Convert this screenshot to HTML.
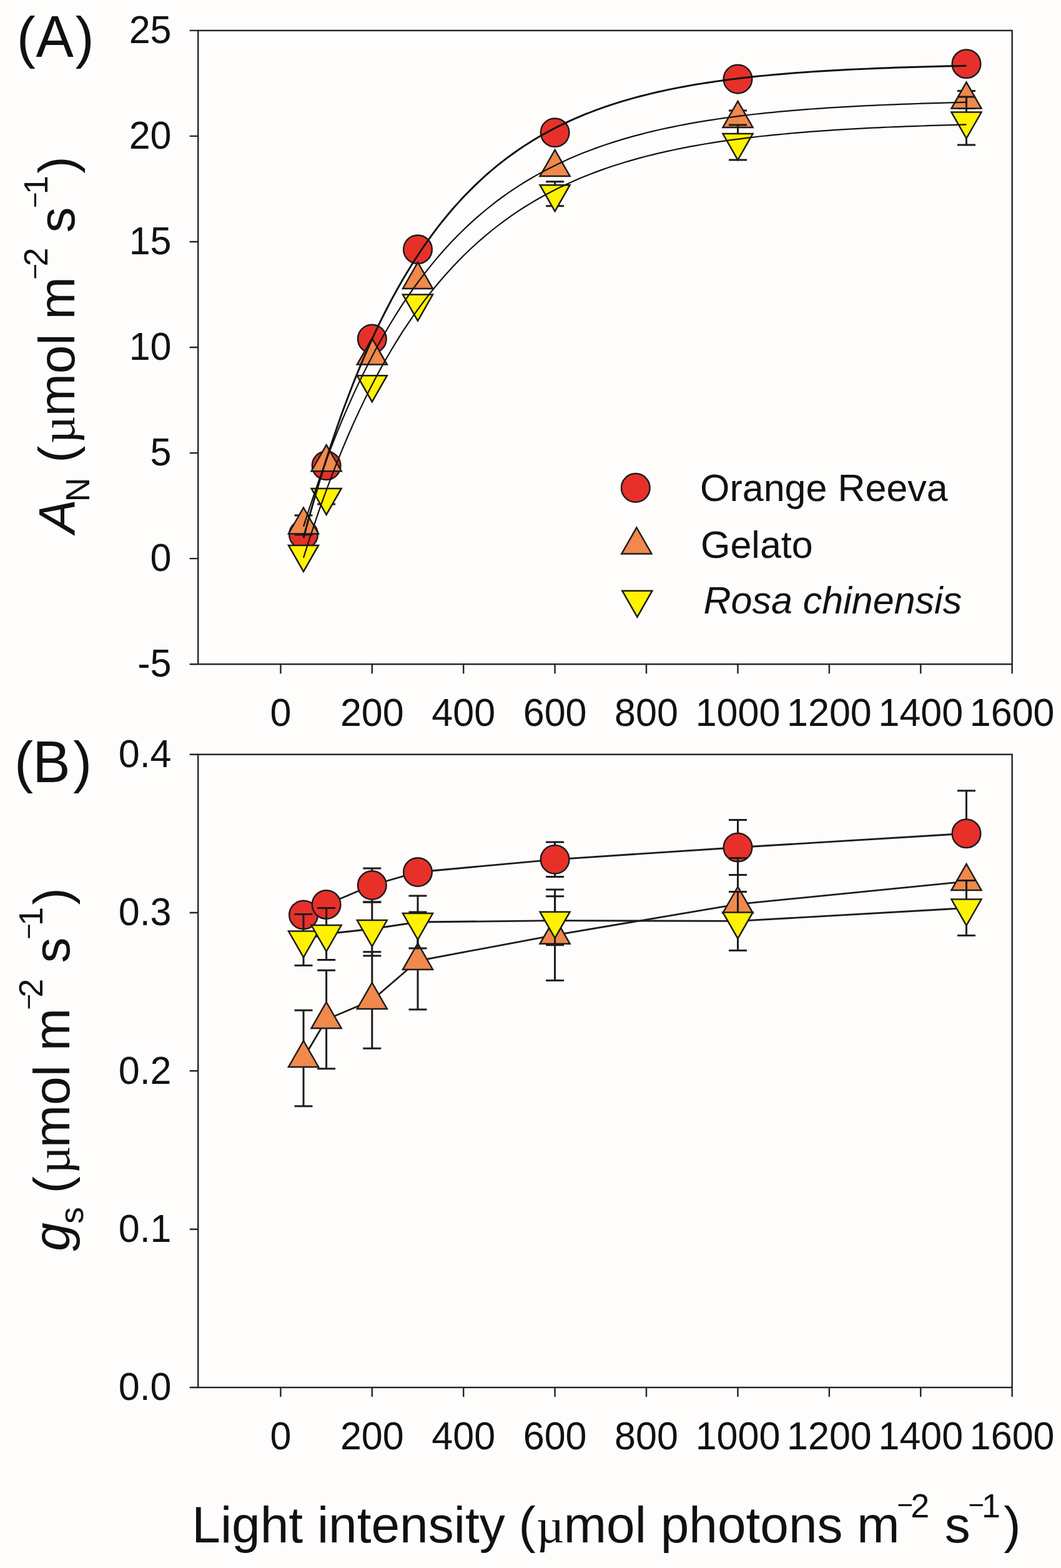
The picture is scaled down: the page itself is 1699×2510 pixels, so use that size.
<!DOCTYPE html>
<html><head><meta charset="utf-8"><title>Light response</title><style>html,body{margin:0;padding:0;background:#fefdfc;}svg{display:block}</style></head><body>
<svg width="1699" height="2510" viewBox="0 0 1699 2510">
<rect width="1699" height="2510" fill="#fefdfc"/>
<g id="axes">
<rect x="317.2" y="48.9" width="1303.5" height="1014.3" fill="none" stroke="#232323" stroke-width="2.4"/>
<rect x="317.2" y="1207.7" width="1303.5" height="1013.3" fill="none" stroke="#232323" stroke-width="2.4"/>
<path d="M303.7,1063.2H317.2M303.7,894.1H317.2M303.7,725.1H317.2M303.7,556.0H317.2M303.7,387.0H317.2M303.7,217.9H317.2M303.7,48.9H317.2M303.7,2221.0H317.2M303.7,1967.7H317.2M303.7,1714.3H317.2M303.7,1461.0H317.2M303.7,1207.7H317.2M449.4,1063.2V1078.2M449.4,2221.0V2236.0M595.8,1063.2V1078.2M595.8,2221.0V2236.0M742.2,1063.2V1078.2M742.2,2221.0V2236.0M888.6,1063.2V1078.2M888.6,2221.0V2236.0M1035.0,1063.2V1078.2M1035.0,2221.0V2236.0M1181.5,1063.2V1078.2M1181.5,2221.0V2236.0M1327.9,1063.2V1078.2M1327.9,2221.0V2236.0M1474.3,1063.2V1078.2M1474.3,2221.0V2236.0M1620.7,1063.2V1078.2M1620.7,2221.0V2236.0" stroke="#232323" stroke-width="2.4" fill="none"/>
</g>
<g font-family="Liberation Sans, Arial, sans-serif" font-size="61" fill="#111">
<text transform="translate(274.5,1083.4) scale(1,1.04)" text-anchor="end">-5</text>
<text transform="translate(274.5,914.4) scale(1,1.04)" text-anchor="end">0</text>
<text transform="translate(274.5,745.3) scale(1,1.04)" text-anchor="end">5</text>
<text transform="translate(274.5,576.2) scale(1,1.04)" text-anchor="end">10</text>
<text transform="translate(274.5,407.2) scale(1,1.04)" text-anchor="end">15</text>
<text transform="translate(274.5,238.1) scale(1,1.04)" text-anchor="end">20</text>
<text transform="translate(274.5,69.1) scale(1,1.04)" text-anchor="end">25</text>
<text transform="translate(274.5,2241.3) scale(1,1.04)" text-anchor="end">0.0</text>
<text transform="translate(274.5,1988.0) scale(1,1.04)" text-anchor="end">0.1</text>
<text transform="translate(274.5,1734.6) scale(1,1.04)" text-anchor="end">0.2</text>
<text transform="translate(274.5,1481.3) scale(1,1.04)" text-anchor="end">0.3</text>
<text transform="translate(274.5,1228.0) scale(1,1.04)" text-anchor="end">0.4</text>
<text transform="translate(449.4,1162.4) scale(1,1.04)" text-anchor="middle">0</text>
<text transform="translate(449.4,2320.1) scale(1,1.04)" text-anchor="middle">0</text>
<text transform="translate(595.8,1162.4) scale(1,1.04)" text-anchor="middle">200</text>
<text transform="translate(595.8,2320.1) scale(1,1.04)" text-anchor="middle">200</text>
<text transform="translate(742.2,1162.4) scale(1,1.04)" text-anchor="middle">400</text>
<text transform="translate(742.2,2320.1) scale(1,1.04)" text-anchor="middle">400</text>
<text transform="translate(888.6,1162.4) scale(1,1.04)" text-anchor="middle">600</text>
<text transform="translate(888.6,2320.1) scale(1,1.04)" text-anchor="middle">600</text>
<text transform="translate(1035.0,1162.4) scale(1,1.04)" text-anchor="middle">800</text>
<text transform="translate(1035.0,2320.1) scale(1,1.04)" text-anchor="middle">800</text>
<text transform="translate(1181.5,1162.4) scale(1,1.04)" text-anchor="middle">1000</text>
<text transform="translate(1181.5,2320.1) scale(1,1.04)" text-anchor="middle">1000</text>
<text transform="translate(1327.9,1162.4) scale(1,1.04)" text-anchor="middle">1200</text>
<text transform="translate(1327.9,2320.1) scale(1,1.04)" text-anchor="middle">1200</text>
<text transform="translate(1474.3,1162.4) scale(1,1.04)" text-anchor="middle">1400</text>
<text transform="translate(1474.3,2320.1) scale(1,1.04)" text-anchor="middle">1400</text>
<text transform="translate(1620.7,1162.4) scale(1,1.04)" text-anchor="middle">1600</text>
<text transform="translate(1620.7,2320.1) scale(1,1.04)" text-anchor="middle">1600</text>
</g>
<g font-family="Liberation Sans, Arial, sans-serif" font-size="90.5" fill="#111">
<text x="26.8" y="90.6">(</text>
<text transform="translate(57.5,91) scale(1,1.04)">A</text>
<text x="120.4" y="90.6">)</text>
<text x="23" y="1251.2">(</text>
<text transform="translate(52.2,1251.5) scale(1,1.04)">B</text>
<text x="117.1" y="1251.2">)</text>
</g>
<g font-family="Liberation Sans, Arial, sans-serif" font-size="82" fill="#111">
<text transform="translate(0,2469.2)"><tspan x="307.3" y="0">Light intensity </tspan><tspan x="830.6" y="0">(</tspan><tspan x="859.0" y="0" font-family="Liberation Serif, Times New Roman, serif" font-size="77">µ</tspan><tspan x="902.8" y="0">mol photons m</tspan><tspan x="1436.5" y="-45.4" font-size="44">−</tspan><tspan x="1458.3" y="-40.3" font-size="54">2</tspan><tspan x="1512.7" y="0">s</tspan><tspan x="1550.6" y="-45.4" font-size="44">−</tspan><tspan x="1572.0" y="-40.3" font-size="54">1</tspan><tspan x="1607.2" y="0">)</tspan></text>
<text transform="translate(119.4,857.8) rotate(-90)"><tspan x="4.0" y="0" font-style="italic">A</tspan><tspan x="54.3" y="23.3" font-size="54">N</tspan><tspan x="117.0" y="0">(</tspan><tspan x="147.7" y="0" font-family="Liberation Serif, Times New Roman, serif" font-size="77">µ</tspan><tspan x="191.3" y="0">mol m</tspan><tspan x="410.3" y="-48.4" font-size="44">−</tspan><tspan x="431.3" y="-43.1" font-size="54">2</tspan><tspan x="485.4" y="0">s</tspan><tspan x="524.7" y="-48.4" font-size="44">−</tspan><tspan x="546.6" y="-43.1" font-size="54">1</tspan><tspan x="580.1" y="0">)</tspan></text>
<text transform="translate(111,2002.7) rotate(-90)"><tspan x="0" y="0" font-style="italic">g</tspan><tspan x="43.7" y="22.3" font-size="54">s</tspan><tspan x="92.4" y="0">(</tspan><tspan x="123.4" y="0" font-family="Liberation Serif, Times New Roman, serif" font-size="77">µ</tspan><tspan x="165.5" y="0">mol m</tspan><tspan x="386.1" y="-50.0" font-size="44">−</tspan><tspan x="406.0" y="-43.4" font-size="54">2</tspan><tspan x="461.2" y="0">s</tspan><tspan x="498.9" y="-50.0" font-size="44">−</tspan><tspan x="520.8" y="-43.4" font-size="54">1</tspan><tspan x="554.1" y="0">)</tspan></text>
</g>
<g id="panelA">







<circle cx="486.0" cy="855.5" r="22.8" fill="#e8302a" stroke="#1c1c1c" stroke-width="2.5"/>
<circle cx="522.6" cy="745.2" r="22.8" fill="#e8302a" stroke="#1c1c1c" stroke-width="2.5"/>
<circle cx="595.8" cy="542.6" r="22.8" fill="#e8302a" stroke="#1c1c1c" stroke-width="2.5"/>
<circle cx="669.0" cy="399.3" r="22.8" fill="#e8302a" stroke="#1c1c1c" stroke-width="2.5"/>
<circle cx="888.6" cy="212.2" r="22.8" fill="#e8302a" stroke="#1c1c1c" stroke-width="2.5"/>
<circle cx="1181.5" cy="126.6" r="22.8" fill="#e8302a" stroke="#1c1c1c" stroke-width="2.5"/>
<circle cx="1547.5" cy="102.2" r="22.8" fill="#e8302a" stroke="#1c1c1c" stroke-width="2.5"/>
<path d="M486.0,840.5V825.1M471.5,825.1H500.5" stroke="#1c1c1c" stroke-width="3.0" fill="none"/><path d="M486.0,840.5V855.9M471.5,855.9H500.5" stroke="#1c1c1c" stroke-width="3.0" fill="none"/>




<path d="M1181.5,189.9V176.9M1167.0,176.9H1196.0" stroke="#1c1c1c" stroke-width="3.0" fill="none"/><path d="M1181.5,189.9V202.9M1167.0,202.9H1196.0" stroke="#1c1c1c" stroke-width="3.0" fill="none"/>
<path d="M1547.5,159.6V145.6M1533.0,145.6H1562.0" stroke="#1c1c1c" stroke-width="3.0" fill="none"/><path d="M1547.5,159.6V173.6M1533.0,173.6H1562.0" stroke="#1c1c1c" stroke-width="3.0" fill="none"/>
<path d="M486.0,812.5L510.0,854.5L462.0,854.5Z" fill="#f0894b" stroke="#1c1c1c" stroke-width="2.5" stroke-linejoin="miter"/>
<path d="M522.6,712.2L546.6,754.2L498.6,754.2Z" fill="#f0894b" stroke="#1c1c1c" stroke-width="2.5" stroke-linejoin="miter"/>
<path d="M595.8,541.6L619.8,583.6L571.8,583.6Z" fill="#f0894b" stroke="#1c1c1c" stroke-width="2.5" stroke-linejoin="miter"/>
<path d="M669.0,419.9L693.0,461.9L645.0,461.9Z" fill="#f0894b" stroke="#1c1c1c" stroke-width="2.5" stroke-linejoin="miter"/>
<path d="M888.6,239.9L912.6,281.9L864.6,281.9Z" fill="#f0894b" stroke="#1c1c1c" stroke-width="2.5" stroke-linejoin="miter"/>
<path d="M1181.5,161.9L1205.5,203.9L1157.5,203.9Z" fill="#f0894b" stroke="#1c1c1c" stroke-width="2.5" stroke-linejoin="miter"/>
<path d="M1547.5,131.6L1571.5,173.6L1523.5,173.6Z" fill="#f0894b" stroke="#1c1c1c" stroke-width="2.5" stroke-linejoin="miter"/>

<path d="M522.6,795.9V784.9M508.1,784.9H537.1" stroke="#1c1c1c" stroke-width="3.0" fill="none"/><path d="M522.6,795.9V806.9M508.1,806.9H537.1" stroke="#1c1c1c" stroke-width="3.0" fill="none"/>


<path d="M888.6,310.2V290.7M874.1,290.7H903.1" stroke="#1c1c1c" stroke-width="3.0" fill="none"/><path d="M888.6,310.2V329.7M874.1,329.7H903.1" stroke="#1c1c1c" stroke-width="3.0" fill="none"/>
<path d="M1181.5,228.0V200.0M1167.0,200.0H1196.0" stroke="#1c1c1c" stroke-width="3.0" fill="none"/><path d="M1181.5,228.0V256.0M1167.0,256.0H1196.0" stroke="#1c1c1c" stroke-width="3.0" fill="none"/>
<path d="M1547.5,193.5V155.0M1533.0,155.0H1562.0" stroke="#1c1c1c" stroke-width="3.0" fill="none"/><path d="M1547.5,193.5V232.0M1533.0,232.0H1562.0" stroke="#1c1c1c" stroke-width="3.0" fill="none"/>
<path d="M462.0,872.9L510.0,872.9L486.0,914.9Z" fill="#fff200" stroke="#1c1c1c" stroke-width="2.5" stroke-linejoin="miter"/>
<path d="M498.6,781.9L546.6,781.9L522.6,823.9Z" fill="#fff200" stroke="#1c1c1c" stroke-width="2.5" stroke-linejoin="miter"/>
<path d="M571.8,601.2L619.8,601.2L595.8,643.2Z" fill="#fff200" stroke="#1c1c1c" stroke-width="2.5" stroke-linejoin="miter"/>
<path d="M645.0,471.6L693.0,471.6L669.0,513.6Z" fill="#fff200" stroke="#1c1c1c" stroke-width="2.5" stroke-linejoin="miter"/>
<path d="M864.6,296.2L912.6,296.2L888.6,338.2Z" fill="#fff200" stroke="#1c1c1c" stroke-width="2.5" stroke-linejoin="miter"/>
<path d="M1157.5,214.0L1205.5,214.0L1181.5,256.0Z" fill="#fff200" stroke="#1c1c1c" stroke-width="2.5" stroke-linejoin="miter"/>
<path d="M1523.5,179.5L1571.5,179.5L1547.5,221.5Z" fill="#fff200" stroke="#1c1c1c" stroke-width="2.5" stroke-linejoin="miter"/>
<path d="M486.0,861.0L494.8,828.5L503.7,797.3L512.5,767.6L521.4,739.0L530.2,711.8L539.1,685.6L547.9,660.6L556.8,636.7L565.6,613.8L574.5,591.9L583.3,570.9L592.2,550.8L601.0,531.5L609.8,513.1L618.7,495.5L627.5,478.6L636.4,462.5L645.2,447.0L654.1,432.2L662.9,418.1L671.8,404.5L680.6,391.5L689.5,379.1L698.3,367.2L707.1,355.9L716.0,345.0L724.8,334.5L733.7,324.6L742.5,315.0L751.4,305.9L760.2,297.1L769.1,288.7L777.9,280.7L786.8,273.0L795.6,265.7L804.4,258.6L813.3,251.9L822.1,245.5L831.0,239.3L839.8,233.4L848.7,227.7L857.5,222.3L866.4,217.1L875.2,212.2L884.1,207.4L892.9,202.9L901.8,198.6L910.6,194.4L919.4,190.4L928.3,186.6L937.1,182.9L946.0,179.5L954.8,176.1L963.7,172.9L972.5,169.8L981.4,166.9L990.2,164.1L999.1,161.4L1007.9,158.8L1016.7,156.4L1025.6,154.0L1034.4,151.8L1043.3,149.6L1052.1,147.5L1061.0,145.6L1069.8,143.7L1078.7,141.8L1087.5,140.1L1096.4,138.5L1105.2,136.9L1114.0,135.3L1122.9,133.9L1131.7,132.5L1140.6,131.2L1149.4,129.9L1158.3,128.7L1167.1,127.5L1176.0,126.4L1184.8,125.3L1193.7,124.3L1202.5,123.3L1211.4,122.3L1220.2,121.4L1229.0,120.6L1237.9,119.8L1246.7,119.0L1255.6,118.2L1264.4,117.5L1273.3,116.8L1282.1,116.1L1291.0,115.5L1299.8,114.9L1308.7,114.3L1317.5,113.7L1326.3,113.2L1335.2,112.7L1344.0,112.2L1352.9,111.7L1361.7,111.3L1370.6,110.9L1379.4,110.5L1388.3,110.1L1397.1,109.7L1406.0,109.3L1414.8,109.0L1423.6,108.7L1432.5,108.3L1441.3,108.0L1450.2,107.8L1459.0,107.5L1467.9,107.2L1476.7,107.0L1485.6,106.7L1494.4,106.5L1503.3,106.3L1512.1,106.0L1521.0,105.8L1529.8,105.7L1538.6,105.5L1547.5,105.3" fill="none" stroke="#111" stroke-width="2.9"/>
<path d="M486.0,842.9L494.8,815.5L503.7,789.1L512.5,763.9L521.4,739.6L530.2,716.3L539.1,693.9L547.9,672.5L556.8,651.9L565.6,632.1L574.5,613.1L583.3,594.9L592.2,577.4L601.0,560.6L609.8,544.5L618.7,529.0L627.5,514.2L636.4,499.9L645.2,486.2L654.1,473.1L662.9,460.5L671.8,448.4L680.6,436.8L689.5,425.6L698.3,414.9L707.1,404.7L716.0,394.8L724.8,385.3L733.7,376.2L742.5,367.5L751.4,359.1L760.2,351.1L769.1,343.4L777.9,336.0L786.8,328.9L795.6,322.0L804.4,315.5L813.3,309.2L822.1,303.2L831.0,297.4L839.8,291.8L848.7,286.5L857.5,281.4L866.4,276.4L875.2,271.7L884.1,267.2L892.9,262.8L901.8,258.7L910.6,254.6L919.4,250.8L928.3,247.1L937.1,243.6L946.0,240.2L954.8,236.9L963.7,233.8L972.5,230.7L981.4,227.9L990.2,225.1L999.1,222.4L1007.9,219.9L1016.7,217.4L1025.6,215.1L1034.4,212.8L1043.3,210.6L1052.1,208.5L1061.0,206.5L1069.8,204.6L1078.7,202.8L1087.5,201.0L1096.4,199.3L1105.2,197.7L1114.0,196.1L1122.9,194.6L1131.7,193.2L1140.6,191.8L1149.4,190.5L1158.3,189.2L1167.1,188.0L1176.0,186.8L1184.8,185.7L1193.7,184.6L1202.5,183.5L1211.4,182.5L1220.2,181.6L1229.0,180.7L1237.9,179.8L1246.7,178.9L1255.6,178.1L1264.4,177.3L1273.3,176.6L1282.1,175.9L1291.0,175.2L1299.8,174.5L1308.7,173.9L1317.5,173.3L1326.3,172.7L1335.2,172.1L1344.0,171.6L1352.9,171.1L1361.7,170.6L1370.6,170.1L1379.4,169.6L1388.3,169.2L1397.1,168.8L1406.0,168.4L1414.8,168.0L1423.6,167.6L1432.5,167.3L1441.3,166.9L1450.2,166.6L1459.0,166.3L1467.9,166.0L1476.7,165.7L1485.6,165.4L1494.4,165.1L1503.3,164.9L1512.1,164.6L1521.0,164.4L1529.8,164.1L1538.6,163.9L1547.5,163.7" fill="none" stroke="#111" stroke-width="2.2"/>
<path d="M486.0,892.8L494.8,865.0L503.7,838.3L512.5,812.6L521.4,788.0L530.2,764.3L539.1,741.6L547.9,719.8L556.8,698.8L565.6,678.7L574.5,659.4L583.3,640.9L592.2,623.1L601.0,606.0L609.8,589.6L618.7,573.8L627.5,558.7L636.4,544.2L645.2,530.2L654.1,516.8L662.9,504.0L671.8,491.6L680.6,479.8L689.5,468.4L698.3,457.5L707.1,447.0L716.0,436.9L724.8,427.2L733.7,417.9L742.5,409.0L751.4,400.5L760.2,392.2L769.1,384.4L777.9,376.8L786.8,369.5L795.6,362.5L804.4,355.8L813.3,349.4L822.1,343.2L831.0,337.2L839.8,331.5L848.7,326.1L857.5,320.8L866.4,315.8L875.2,310.9L884.1,306.3L892.9,301.8L901.8,297.5L910.6,293.4L919.4,289.4L928.3,285.6L937.1,282.0L946.0,278.5L954.8,275.1L963.7,271.9L972.5,268.8L981.4,265.8L990.2,263.0L999.1,260.2L1007.9,257.6L1016.7,255.1L1025.6,252.6L1034.4,250.3L1043.3,248.1L1052.1,245.9L1061.0,243.9L1069.8,241.9L1078.7,240.0L1087.5,238.1L1096.4,236.4L1105.2,234.7L1114.0,233.1L1122.9,231.5L1131.7,230.0L1140.6,228.6L1149.4,227.2L1158.3,225.9L1167.1,224.7L1176.0,223.4L1184.8,222.3L1193.7,221.2L1202.5,220.1L1211.4,219.0L1220.2,218.0L1229.0,217.1L1237.9,216.2L1246.7,215.3L1255.6,214.5L1264.4,213.6L1273.3,212.9L1282.1,212.1L1291.0,211.4L1299.8,210.7L1308.7,210.1L1317.5,209.4L1326.3,208.8L1335.2,208.2L1344.0,207.7L1352.9,207.1L1361.7,206.6L1370.6,206.1L1379.4,205.6L1388.3,205.2L1397.1,204.7L1406.0,204.3L1414.8,203.9L1423.6,203.5L1432.5,203.1L1441.3,202.8L1450.2,202.4L1459.0,202.1L1467.9,201.8L1476.7,201.5L1485.6,201.2L1494.4,200.9L1503.3,200.6L1512.1,200.4L1521.0,200.1L1529.8,199.9L1538.6,199.7L1547.5,199.4" fill="none" stroke="#111" stroke-width="2.2"/>
</g>
<g id="panelB">
<path d="M486.0,1464.5L522.6,1448.0L595.8,1417.0L669.0,1396.0L888.6,1375.8L1181.5,1356.5L1547.5,1334.2" fill="none" stroke="#1c1c1c" stroke-width="2.8"/>


<path d="M595.8,1417.0V1390.0M581.3,1390.0H610.3" stroke="#1c1c1c" stroke-width="3.0" fill="none"/><path d="M595.8,1417.0V1444.0M581.3,1444.0H610.3" stroke="#1c1c1c" stroke-width="3.0" fill="none"/>

<path d="M888.6,1375.8V1348.1M874.1,1348.1H903.1" stroke="#1c1c1c" stroke-width="3.0" fill="none"/><path d="M888.6,1375.8V1403.5M874.1,1403.5H903.1" stroke="#1c1c1c" stroke-width="3.0" fill="none"/>
<path d="M1181.5,1356.5V1312.5M1167.0,1312.5H1196.0" stroke="#1c1c1c" stroke-width="3.0" fill="none"/><path d="M1181.5,1356.5V1400.5M1167.0,1400.5H1196.0" stroke="#1c1c1c" stroke-width="3.0" fill="none"/>
<path d="M1547.5,1334.2V1265.8M1533.0,1265.8H1562.0" stroke="#1c1c1c" stroke-width="3.0" fill="none"/>
<circle cx="486.0" cy="1464.5" r="22.8" fill="#e8302a" stroke="#1c1c1c" stroke-width="2.5"/>
<circle cx="522.6" cy="1448.0" r="22.8" fill="#e8302a" stroke="#1c1c1c" stroke-width="2.5"/>
<circle cx="595.8" cy="1417.0" r="22.8" fill="#e8302a" stroke="#1c1c1c" stroke-width="2.5"/>
<circle cx="669.0" cy="1396.0" r="22.8" fill="#e8302a" stroke="#1c1c1c" stroke-width="2.5"/>
<circle cx="888.6" cy="1375.8" r="22.8" fill="#e8302a" stroke="#1c1c1c" stroke-width="2.5"/>
<circle cx="1181.5" cy="1356.5" r="22.8" fill="#e8302a" stroke="#1c1c1c" stroke-width="2.5"/>
<circle cx="1547.5" cy="1334.2" r="22.8" fill="#e8302a" stroke="#1c1c1c" stroke-width="2.5"/>
<path d="M486.0,1694.0L522.6,1632.0L595.8,1601.0L669.0,1538.0L888.6,1496.8L1181.5,1447.4L1547.5,1411.0" fill="none" stroke="#1c1c1c" stroke-width="2.8"/>
<path d="M486.0,1694.0V1617.2M471.5,1617.2H500.5" stroke="#1c1c1c" stroke-width="3.0" fill="none"/><path d="M486.0,1694.0V1770.8M471.5,1770.8H500.5" stroke="#1c1c1c" stroke-width="3.0" fill="none"/>
<path d="M522.6,1632.0V1553.3M508.1,1553.3H537.1" stroke="#1c1c1c" stroke-width="3.0" fill="none"/><path d="M522.6,1632.0V1710.7M508.1,1710.7H537.1" stroke="#1c1c1c" stroke-width="3.0" fill="none"/>
<path d="M595.8,1601.0V1523.8M581.3,1523.8H610.3" stroke="#1c1c1c" stroke-width="3.0" fill="none"/><path d="M595.8,1601.0V1678.2M581.3,1678.2H610.3" stroke="#1c1c1c" stroke-width="3.0" fill="none"/>
<path d="M669.0,1538.0V1460.0M654.5,1460.0H683.5" stroke="#1c1c1c" stroke-width="3.0" fill="none"/><path d="M669.0,1538.0V1616.0M654.5,1616.0H683.5" stroke="#1c1c1c" stroke-width="3.0" fill="none"/>
<path d="M888.6,1496.8V1424.1M874.1,1424.1H903.1" stroke="#1c1c1c" stroke-width="3.0" fill="none"/><path d="M888.6,1496.8V1569.5M874.1,1569.5H903.1" stroke="#1c1c1c" stroke-width="3.0" fill="none"/>
<path d="M1181.5,1447.4V1373.4M1167.0,1373.4H1196.0" stroke="#1c1c1c" stroke-width="3.0" fill="none"/><path d="M1181.5,1447.4V1521.4M1167.0,1521.4H1196.0" stroke="#1c1c1c" stroke-width="3.0" fill="none"/>

<path d="M486.0,1666.0L510.0,1708.0L462.0,1708.0Z" fill="#f0894b" stroke="#1c1c1c" stroke-width="2.5" stroke-linejoin="miter"/>
<path d="M522.6,1604.0L546.6,1646.0L498.6,1646.0Z" fill="#f0894b" stroke="#1c1c1c" stroke-width="2.5" stroke-linejoin="miter"/>
<path d="M595.8,1573.0L619.8,1615.0L571.8,1615.0Z" fill="#f0894b" stroke="#1c1c1c" stroke-width="2.5" stroke-linejoin="miter"/>
<path d="M669.0,1510.0L693.0,1552.0L645.0,1552.0Z" fill="#f0894b" stroke="#1c1c1c" stroke-width="2.5" stroke-linejoin="miter"/>
<path d="M888.6,1468.8L912.6,1510.8L864.6,1510.8Z" fill="#f0894b" stroke="#1c1c1c" stroke-width="2.5" stroke-linejoin="miter"/>
<path d="M1181.5,1419.4L1205.5,1461.4L1157.5,1461.4Z" fill="#f0894b" stroke="#1c1c1c" stroke-width="2.5" stroke-linejoin="miter"/>
<path d="M1547.5,1383.0L1571.5,1425.0L1523.5,1425.0Z" fill="#f0894b" stroke="#1c1c1c" stroke-width="2.5" stroke-linejoin="miter"/>
<path d="M486.0,1504.5L522.6,1495.0L595.8,1487.0L669.0,1476.0L888.6,1473.7L1181.5,1474.4L1547.5,1453.5" fill="none" stroke="#1c1c1c" stroke-width="2.8"/>
<path d="M486.0,1504.5V1463.5M471.5,1463.5H500.5" stroke="#1c1c1c" stroke-width="3.0" fill="none"/><path d="M486.0,1504.5V1545.5M471.5,1545.5H500.5" stroke="#1c1c1c" stroke-width="3.0" fill="none"/>
<path d="M522.6,1495.0V1453.6M508.1,1453.6H537.1" stroke="#1c1c1c" stroke-width="3.0" fill="none"/><path d="M522.6,1495.0V1536.4M508.1,1536.4H537.1" stroke="#1c1c1c" stroke-width="3.0" fill="none"/>
<path d="M595.8,1487.0V1444.0M581.3,1444.0H610.3" stroke="#1c1c1c" stroke-width="3.0" fill="none"/><path d="M595.8,1487.0V1530.0M581.3,1530.0H610.3" stroke="#1c1c1c" stroke-width="3.0" fill="none"/>
<path d="M669.0,1476.0V1434.0M654.5,1434.0H683.5" stroke="#1c1c1c" stroke-width="3.0" fill="none"/><path d="M669.0,1476.0V1518.0M654.5,1518.0H683.5" stroke="#1c1c1c" stroke-width="3.0" fill="none"/>
<path d="M888.6,1473.7V1434.7M874.1,1434.7H903.1" stroke="#1c1c1c" stroke-width="3.0" fill="none"/><path d="M888.6,1473.7V1512.7M874.1,1512.7H903.1" stroke="#1c1c1c" stroke-width="3.0" fill="none"/>
<path d="M1181.5,1474.4V1427.4M1167.0,1427.4H1196.0" stroke="#1c1c1c" stroke-width="3.0" fill="none"/><path d="M1181.5,1474.4V1521.4M1167.0,1521.4H1196.0" stroke="#1c1c1c" stroke-width="3.0" fill="none"/>
<path d="M1547.5,1453.5V1409.5M1533.0,1409.5H1562.0" stroke="#1c1c1c" stroke-width="3.0" fill="none"/><path d="M1547.5,1453.5V1497.5M1533.0,1497.5H1562.0" stroke="#1c1c1c" stroke-width="3.0" fill="none"/>
<path d="M462.0,1490.5L510.0,1490.5L486.0,1532.5Z" fill="#fff200" stroke="#1c1c1c" stroke-width="2.5" stroke-linejoin="miter"/>
<path d="M498.6,1481.0L546.6,1481.0L522.6,1523.0Z" fill="#fff200" stroke="#1c1c1c" stroke-width="2.5" stroke-linejoin="miter"/>
<path d="M571.8,1473.0L619.8,1473.0L595.8,1515.0Z" fill="#fff200" stroke="#1c1c1c" stroke-width="2.5" stroke-linejoin="miter"/>
<path d="M645.0,1462.0L693.0,1462.0L669.0,1504.0Z" fill="#fff200" stroke="#1c1c1c" stroke-width="2.5" stroke-linejoin="miter"/>
<path d="M864.6,1459.7L912.6,1459.7L888.6,1501.7Z" fill="#fff200" stroke="#1c1c1c" stroke-width="2.5" stroke-linejoin="miter"/>
<path d="M1157.5,1460.4L1205.5,1460.4L1181.5,1502.4Z" fill="#fff200" stroke="#1c1c1c" stroke-width="2.5" stroke-linejoin="miter"/>
<path d="M1523.5,1439.5L1571.5,1439.5L1547.5,1481.5Z" fill="#fff200" stroke="#1c1c1c" stroke-width="2.5" stroke-linejoin="miter"/>
</g>
<g id="legend">
<circle cx="1017.8" cy="780.9" r="22.8" fill="#e8302a" stroke="#1c1c1c" stroke-width="2.5"/>
<path d="M1019.4,844.5L1043.4,886.5L995.4,886.5Z" fill="#f0894b" stroke="#1c1c1c" stroke-width="2.5" stroke-linejoin="miter"/>
<path d="M996.4,945.7L1044.4,945.7L1020.4,987.7Z" fill="#fff200" stroke="#1c1c1c" stroke-width="2.5" stroke-linejoin="miter"/>
<g font-family="Liberation Sans, Arial, sans-serif" font-size="61" fill="#111">
<text x="1121" y="801.5">Orange Reeva</text>
<text x="1122" y="892.5">Gelato</text>
<text x="1126.5" y="981.6" font-style="italic">Rosa chinensis</text>
</g></g>
</svg>
</body></html>
